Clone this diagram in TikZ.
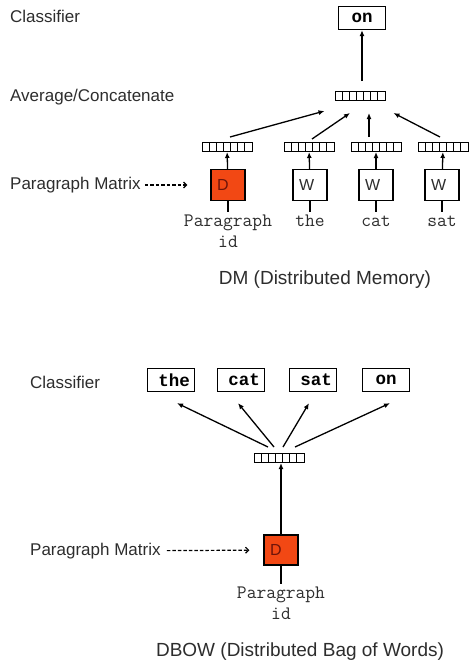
\documentclass[tikz,border=0pt]{standalone}
\usepackage{fontspec}
\setmainfont{Liberation Sans}
\newfontfamily\boxmono{Liberation Mono}
\usetikzlibrary{arrows.meta, positioning}
\definecolor{dorange}{RGB}{242,72,20}
\definecolor{dred}{RGB}{110,20,10}
\definecolor{txt}{RGB}{45,45,45}

\begin{document}
\begin{tikzpicture}[x=1pt, y=-1pt,
  lbl/.style={anchor=west, inner sep=0pt, text=txt, font=\fontsize{17}{20}\selectfont},
  title/.style={text=txt, font=\fontsize{19}{22}\selectfont},
  word/.style={anchor=north, inner sep=0pt, align=center, text=txt, font=\ttfamily\fontsize{19}{21}\selectfont},
  outbox/.style={draw, line width=1.3pt, minimum width=47pt, minimum height=23pt, inner sep=0pt, font=\boxmono\bfseries\fontsize{17.5}{20}\selectfont},
  rightbox/.style={outbox, execute at begin node={\hspace{6pt}}},
  vec/.style={draw, line width=1pt, minimum width=50pt, minimum height=9pt, inner sep=0pt,
    path picture={\foreach \k in {1,...,6} \draw[line width=0.8pt] ([xshift=\k*50pt/7]path picture bounding box.south west) -- ([xshift=\k*50pt/7]path picture bounding box.north west);}},
  wbox/.style={draw, line width=1.2pt, minimum height=31pt, inner xsep=6pt, text width=22pt, align=left, text=txt, font=\fontsize{16}{18}\selectfont},
  dbox/.style={wbox, fill=dorange, text=dred},
  stub/.style={line width=1.2pt, shorten >=3pt},
  arrow/.style={-{Latex[length=6pt, width=5pt]}, line width=1.3pt},
  dasharrow/.style={-{Straight Barb[length=3pt, width=6pt]}, dash pattern=on 3.5pt off 2pt, line width=1.2pt}]

\useasboundingbox (0,0) rectangle (474,672);

% DM (Distributed Memory)
\node[lbl] (cls1) at (10,16) {Classifier};
\node[lbl] (avgtxt) at (10,97) {Average/Concatenate};
\node[lbl] (pm1) at (10,185) {Paragraph Matrix};

\node[outbox] (on1) at (362,18) {on};
\node[vec] (avg) at (360,96) {};
\node[vec] (vd) at (227,147) {};
\node[vec] (vthe) at (309,147) {};
\node[vec] (vcat) at (376,147) {};
\node[vec] (vsat) at (443,147) {};
\node[dbox] (d1) at (228,185) {D};
\node[wbox] (wthe) at (310,185) {W};
\node[wbox] (wcat) at (376,185) {W};
\node[wbox] (wsat) at (442,185) {W};

\node[word] (pid1) at (228,215) {Paragraph\\id};
\node[word] (lthe) at (310,215) {the};
\node[word, anchor=base] (lcat) at (wcat |- lthe.base) {cat};
\node[word, anchor=base] (lsat) at (wsat |- lthe.base) {sat};

\draw[stub] (d1) -- (pid1);
\draw[stub] (wthe) -- (lthe);
\draw[stub] (wcat.south) -- (wcat.south |- lthe.north);
\draw[stub] (wsat.south) -- (wsat.south |- lthe.north);

\draw[arrow] (d1) -- (vd);
\draw[arrow] (wthe) -- (vthe);
\draw[arrow] (wcat) -- (vcat);
\draw[arrow] (wsat) -- (vsat);

\draw[arrow] ([xshift=3pt,yshift=5pt]vd.north) -- ([xshift=-10pt,yshift=-10pt]avg.south west);
\draw[arrow] ([xshift=3pt,yshift=3pt]vthe.north) -- ([xshift=-10pt,yshift=-12pt]avg.south);
\draw[arrow] ([xshift=-7pt,yshift=5pt]vcat.north) -- ([xshift=9pt,yshift=-12pt]avg.south);
\draw[arrow] ([xshift=-3pt,yshift=5pt]vsat.north) -- ([xshift=8pt,yshift=-12pt]avg.south east);
\draw[arrow] ([xshift=2pt,yshift=10pt]avg.north) -- (on1.south);

\draw[dasharrow, shorten <=4pt, shorten >=23pt] (pm1) -- (d1);

\node[title] (dm) at (325,280) {DM (Distributed Memory)};

% DBOW (Distributed Bag of Words)
\node[lbl] (cls2) at (30,382) {Classifier};
\node[lbl] (pm2) at (30,551) {Paragraph Matrix};

\node[rightbox] (othe) at (171,380) {the};
\node[rightbox] (ocat) at (241,380) {cat};
\node[rightbox] (osat) at (313,380) {sat};
\node[outbox] (oon) at (386,380) {on};
\node[vec] (hid) at (279,458) {};
\node[dbox, minimum height=30pt] (d2) at (281,550) {D};
\node[word] (pid2) at (281,587) {Paragraph\\id};

\draw[stub] (d2) -- (pid2);
\draw[arrow] (d2.north) -- (d2.north |- hid.south);

\draw[arrow] ([xshift=-11pt,yshift=6pt]hid.north) -- ([xshift=6pt,yshift=-11pt]othe.south);
\draw[arrow] ([xshift=-5pt,yshift=6pt]hid.north) -- ([xshift=-3pt,yshift=-11pt]ocat.south);
\draw[arrow] ([xshift=4pt,yshift=6pt]hid.north) -- ([xshift=-4pt,yshift=-11pt]osat.south);
\draw[arrow] ([xshift=16pt,yshift=6pt]hid.north) -- ([xshift=4pt,yshift=-11pt]oon.south);

\draw[dasharrow, shorten <=6pt, shorten >=14pt] (pm2) -- (d2);

\node[title] (dbow) at (300,652) {DBOW (Distributed Bag of Words)};

\end{tikzpicture}
\end{document}
